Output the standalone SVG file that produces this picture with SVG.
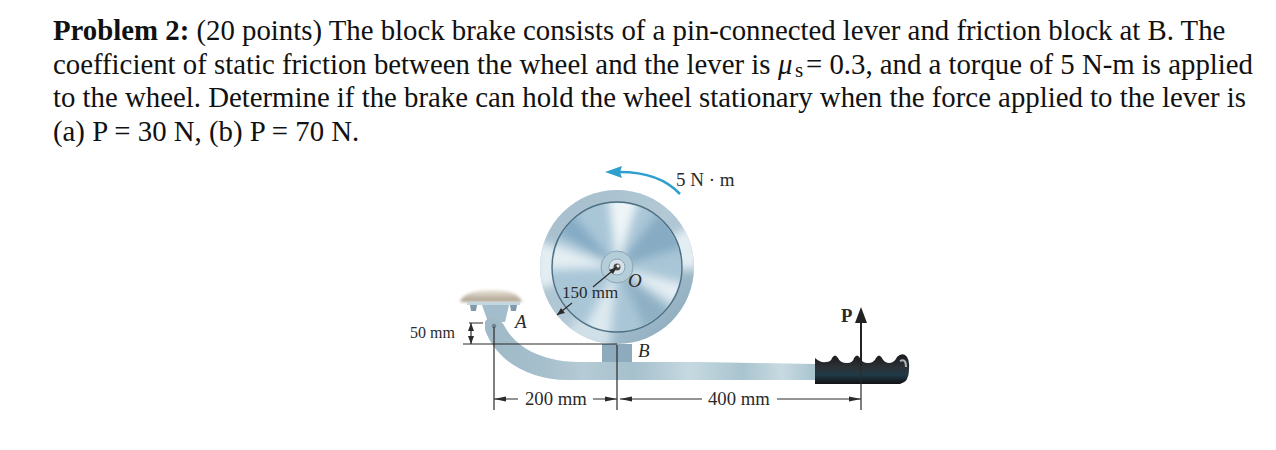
<svg xmlns="http://www.w3.org/2000/svg" width="1276" height="450" viewBox="0 0 1276 450">
<style>
.t{font-family:"Liberation Serif","Times New Roman",serif;font-size:28.8px;fill:#111}
.l{font-family:"Liberation Serif","Times New Roman",serif;font-size:18.7px;fill:#2a2a2a}
.i{font-style:italic;font-size:19px}
.d{stroke:#2b2b2b;stroke-width:1.2;fill:none}
.h{fill:#2b2b2b}
</style>
<defs>
<filter id="soft" x="-10%" y="-10%" width="120%" height="120%"><feGaussianBlur stdDeviation="0.6"/></filter>
<filter id="wedge" x="-20%" y="-20%" width="140%" height="140%"><feGaussianBlur stdDeviation="5"/></filter>
<filter id="haze" x="-20%" y="-50%" width="140%" height="200%"><feGaussianBlur stdDeviation="1.5"/></filter>
<clipPath id="faceclip"><circle cx="617" cy="267" r="64"/></clipPath>
<clipPath id="rimclip"><circle cx="617" cy="267" r="77"/></clipPath>
<linearGradient id="bar" x1="0" y1="0" x2="1" y2="0"><stop offset="0" stop-color="#9fb9c7"/><stop offset=".18" stop-color="#a6bfcc"/><stop offset=".3" stop-color="#b5cbd5"/><stop offset=".45" stop-color="#a5c0cc"/><stop offset=".62" stop-color="#c6d9e1"/><stop offset=".78" stop-color="#a9c4cf"/><stop offset=".9" stop-color="#c8dae1"/><stop offset="1" stop-color="#a8c4ce"/></linearGradient>
<linearGradient id="rim" x1="0" y1="0" x2="1" y2="1"><stop offset="0" stop-color="#a3bccc"/><stop offset=".5" stop-color="#b3c9d5"/><stop offset="1" stop-color="#86a6ba"/></linearGradient>
<linearGradient id="grip" x1="0" y1="0" x2="0" y2="1"><stop offset="0" stop-color="#1a1c1f"/><stop offset=".45" stop-color="#2c3236"/><stop offset=".7" stop-color="#1f3a47"/><stop offset="1" stop-color="#111"/></linearGradient>
<linearGradient id="wall" x1="0" y1="0" x2="0" y2="1"><stop offset="0" stop-color="#ece6dc"/><stop offset="1" stop-color="#a89c88"/></linearGradient>
</defs>
<g id="problem-text">
<text class="t" x="53" y="40"><tspan font-weight="bold">Problem 2:</tspan> (20 points) The block brake consists of a pin-connected lever and friction block at B. The</text>
<text class="t" x="53" y="74">coefficient of static friction between the wheel and the lever is</text>
<text class="t" x="778" y="74" font-style="italic">μ</text>
<text class="t" x="795" y="77" style="font-size:21px">s</text>
<text class="t" x="806" y="74" textLength="447">= 0.3, and a torque of 5 N-m is applied</text>
<text class="t" x="53" y="107">to the wheel. Determine if the brake can hold the wheel stationary when the force applied to the lever is</text>
<text class="t" x="53" y="141">(a) P = 30 N, (b) P = 70 N.</text>
</g>
<g id="support" filter="url(#soft)">
<path d="M460 302C463 293 476 290 491 290C506 290 519 293 522 302Z" fill="url(#wall)" filter="url(#haze)"/>
<rect x="467" y="302" width="53" height="3" fill="#c4d6e0"/>
<path d="M482 305H509L505 322H488Z" fill="#a3bdcc"/>
<path d="M470 305H477L476 311H471Z" fill="#7f9aab"/><path d="M510 305H517L516 311H511Z" fill="#7f9aab"/>
</g>
<g id="lever" filter="url(#soft)">
<path d="M485 322C487 316 500 316 505 327C513 342 535 362 580 362H700L815 364V380H568C530 380 497 362 485 330Z" fill="url(#bar)"/>
<circle cx="494" cy="326" r="1.8" fill="#eef4f7" stroke="#5e7a8a"/>
</g>
<g id="block-b" filter="url(#soft)"><rect x="602" y="344" width="30" height="18" fill="#8dabbd"/></g>
<g id="handle" filter="url(#soft)">
<path d="M815 358Q820 363 826 362Q831 362 832 358Q835 353 838 358Q840 363 847 363Q853 363 854 358Q857 353 860 358Q862 363 868 363Q874 363 876 358Q879 353 882 358Q884 363 890 363Q895 362 897 357Q901 353 905 355Q910 358 909 370Q909 382 900 384H815Z" fill="url(#grip)"/>
<path d="M900 361Q906 358 906 367" stroke="#aab2b6" stroke-width="2" fill="none"/>
</g>
<g id="wheel" filter="url(#soft)">
<circle cx="617" cy="267" r="77" fill="url(#rim)"/>
<g clip-path="url(#rimclip)"><g filter="url(#wedge)">
<path d="M617 267L535 240L535 290Z" fill="#e3eef3"/>
<path d="M617 267L700 220L700 270Z" fill="#e3eef3"/>
<path d="M617 267L560 340L610 350Z" fill="#cfe0e8"/>
</g></g>
<circle cx="617" cy="267" r="65" fill="#a9c6d7" stroke="#4f6f83" stroke-width="1.4"/>
<g clip-path="url(#faceclip)">
<g filter="url(#wedge)">
<path d="M617 267L608 195L640 195Z" fill="#eef5f8"/>
<path d="M617 267L545 240L545 270Z" fill="#e4eef3"/>
<path d="M617 267L690 285L690 315Z" fill="#e4eef3"/>
<path d="M617 267L575 345L610 345Z" fill="#dde9ef"/>
<path d="M617 267L560 200L545 225Z" fill="#84aac4"/>
<path d="M617 267L665 205L690 245Z" fill="#86abc3"/>
<path d="M617 267L650 340L680 320Z" fill="#8fb0c4"/>
</g>
</g>
<circle cx="617" cy="267" r="16" fill="#b5ccd9" stroke="#8aa6b7"/>
<circle cx="617" cy="267" r="8" fill="#d4e2ea" stroke="#8aa6b7"/>
<circle cx="617" cy="267" r="3.5" fill="#4a4a4a"/>
<circle cx="618" cy="266" r="1.6" fill="#f2f2f2"/>
</g>
<g id="connectors">
<path d="M680 194C667 180 648 171 615 172" stroke="#2f9fd0" stroke-width="2.6" fill="none"/>
<path d="M605 172L622 166L620 172L622 178Z" fill="#2f9fd0"/>
<path class="d" d="M617 267L593 287"/>
<path class="h" d="M617 267L609 270L613 274Z"/>
<path class="d" d="M572 303L557 315"/>
<path class="h" d="M557 315L561 308L565 313Z"/>
<path class="d" d="M463 344H617M469 323H483M471 323V344"/>
<path class="h" d="M471 323L468 331H474ZM471 344L468 336H474Z"/>
<path class="d" d="M494 325V410M617 345V410M861 366V410"/>
<path class="d" d="M494 399H518M593 399H617M620 399H702M777 399H861"/>
<path class="h" d="M494 399L506 396.5V401.5ZM617 399L605 396.5V401.5ZM620 399L632 396.5V401.5ZM861 399L849 396.5V401.5Z"/>
<path d="M860 315H862V366H860Z" fill="#222"/>
<path d="M861 307L855 323H867Z" fill="#222"/>
</g>
<g id="labels">
<text class="l" x="676" y="186" style="font-size:19px">5 N · m</text>
<text class="l" x="562" y="298" style="font-size:17px">150 mm</text>
<text class="l" x="410" y="338" style="font-size:16px">50 mm</text>
<text class="l" x="525" y="405">200 mm</text>
<text class="l" x="708" y="405">400 mm</text>
<text class="l i" x="515" y="328">A</text>
<text class="l i" x="638" y="357">B</text>
<text class="l i" x="628" y="287">O</text>
<text class="l" x="841" y="322" font-weight="bold">P</text>
</g>
</svg>
